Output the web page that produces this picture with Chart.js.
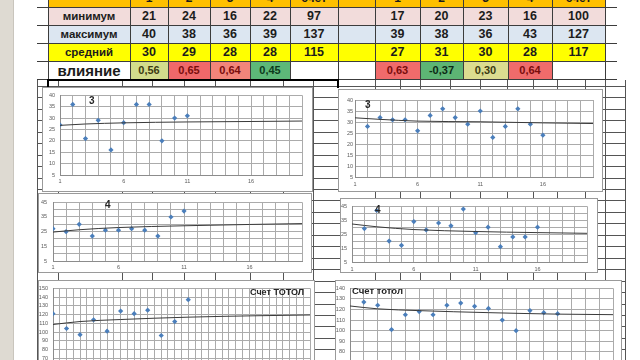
<!DOCTYPE html>
<html><head><meta charset="utf-8">
<script src="https://cdn.jsdelivr.net/npm/chart.js@4.4.0/dist/chart.umd.min.js"></script>
<style>
html,body{margin:0;padding:0;width:640px;height:360px;overflow:hidden;background:#fff;font-family:"Liberation Sans",Arial,sans-serif;}
#strip{position:absolute;left:0;top:0;width:13px;height:360px;background:#dedad2;border-right:1px solid #c9c5bd;}
.cell{position:absolute;box-sizing:border-box;display:flex;align-items:center;justify-content:center;font-weight:bold;color:#1c1c1c;}
.hl{position:absolute;height:1px;background:#3c3c3c;}
.vl{position:absolute;width:1px;background:#3c3c3c;}
.box{position:absolute;background:#fff;border:1px solid #9a9a9a;box-sizing:border-box;}
.box canvas{position:absolute;left:-1px;top:-1px;}
.ttl{position:absolute;font-weight:bold;color:#262626;white-space:nowrap;line-height:1;}
</style></head><body>
<div id="strip"></div>
<div id="sheet"></div>
<div id="table"></div>
<div id="charts"></div>
<script>
// таблица
const colHeads = ['1', '2', '3', '4', 'счет'];
const rowNames = ['минимум', 'максимум', 'средний', 'влияние'];
const minLeft = [21, 24, 16, 22, 97];
const maxLeft = [40, 38, 36, 39, 137];
const avgLeft = [30, 29, 28, 28, 115];
const minRight = [17, 20, 23, 16, 100];
const maxRight = [39, 38, 36, 43, 127];
const avgRight = [27, 31, 30, 28, 117];
const effLeft = ['0,56', '0,65', '0,64', '0,45'];
const effRight = ['0,63', '-0,37', '0,30', '0,64'];

// графики
const xTickLabels = [1, 6, 11, 16];
const days11 = [1, 2, 3, 4, 5, 6, 7, 8, 9, 10, 11];
const days15 = [2, 3, 4, 5, 6, 7, 8, 9, 10, 11, 12, 13, 14, 15, 16];
const leftCol3 = [27, 36, 21, 29, 16, 28, 36, 36, 20, 30, 31];
const rightCol3 = [28, 32, 31, 31, 26, 33, 36, 32, 29, 35, 23, 28, 36, 29, 24];
const leftCol4 = [27, 25, 30, 22, 26, 26, 27, 26, 22, 35, 39];
const rightCol4 = [29, 42, 20, 17, 34, 28, 33, 31, 43, 26, 30, 16, 23, 23, 30];
const leftTotal = [121, 104, 97, 114, 101, 124, 121, 125, 96, 112, 137];
const rightTotal = [127, 124, 101, 115, 118, 115, 124, 126, 123, 121, 110, 100, 119, 117, 116];
// линии тренда
const trendX = [1, 3, 6, 11, 16, 20];
const trendLeft3 = [26.8, 27.4, 27.9, 28.3, 28.5, 28.7];
const trendRight3 = [31.9, 31.2, 30.4, 30.1, 29.6, 29.3];
const trendLeft4 = [24.7, 26.3, 27.8, 29.0, 29.9, 30.5];
const trendRight4 = [32.3, 30.3, 28.3, 26.9, 26.1, 25.6];
const trendLeftTotal = [108.6, 112, 114.3, 117, 118.6, 119.5];
const trendRightTotal = [123.3, 120.6, 118.9, 117, 115.6, 115.1];
const yLabels40 = [5, 10, 15, 20, 25, 30, 35, 40];
const yLabels45 = [5, 15, 25, 35, 45];
const yLabels150 = [60, 70, 80, 90, 100, 110, 120, 130, 140, 150];
const yLabels140 = [60, 70, 80, 90, 100, 110, 120, 130, 140];

// ---- фон листа ----
const sheet = document.getElementById('sheet');
const addLine = (parent, cls, x, y, w, h, color) => {
  const d = document.createElement('div');
  d.className = cls;
  d.style.left = x + 'px'; d.style.top = y + 'px';
  if (w) d.style.width = w + 'px';
  if (h) d.style.height = h + 'px';
  if (color) d.style.background = color;
  parent.appendChild(d);
  return d;
};
for (let y = 86; y < 360; y += 11.45) addLine(sheet, 'hl', 37, Math.round(y), 588, 0, '#555');
[37, 58, 122, 152, 184, 215, 250, 283, 313, 375, 400, 420, 450, 480, 507, 533, 557, 585, 605, 625]
  .forEach(x => addLine(sheet, 'vl', x, 80, 0, 280, '#555'));

// ---- таблица ----
const table = document.getElementById('table');
const colEdges = [48, 130, 168, 210, 250, 290, 338, 375, 420, 463, 508, 552, 605];
const rowEdges = [-11, 7, 25, 43, 61, 79];
const rowBg = ['#FFC000', '#F2DCDB', '#DCE6F1', '#FFFF00', '#FFFFFF'];
const effBgLeft = ['#D2DC8C', '#F0686A', '#F2857A', '#5DB878'];
const effBgRight = ['#F06B6B', '#5DB574', '#DCDC90', '#F06B6B'];
const effFgLeft = ['#3b3b12', '#7a0d0d', '#7a0d0d', '#0d3a1c'];
const effFgRight = ['#7a0d0d', '#0d2a14', '#3b3b12', '#7a0d0d'];

function cell(c, r, text, bg, size, color) {
  const d = document.createElement('div');
  d.className = 'cell';
  d.style.left = colEdges[c] + 'px';
  d.style.top = rowEdges[r] + 'px';
  d.style.width = (colEdges[c + 1] - colEdges[c]) + 'px';
  d.style.height = (rowEdges[r + 1] - rowEdges[r]) + 'px';
  d.style.background = bg;
  d.style.fontSize = size + 'px';
  if (color) d.style.color = color;
  d.textContent = text;
  table.appendChild(d);
}
// строка заголовка и фон строк
for (let r = 0; r < 5; r++) {
  for (let c = 0; c < 12; c++) cell(c, r, '', rowBg[r], 12);
}
colHeads.forEach((h, i) => { cell(1 + i, 0, h, rowBg[0], 12); cell(7 + i, 0, h, rowBg[0], 12); });
rowNames.forEach((n, i) => cell(0, i + 1, n, rowBg[i + 1], i === 3 ? 15 : 11.5));
[minLeft, maxLeft, avgLeft].forEach((arr, r) => arr.forEach((v, i) => cell(1 + i, r + 1, v, rowBg[r + 1], 12.5)));
[minRight, maxRight, avgRight].forEach((arr, r) => arr.forEach((v, i) => cell(7 + i, r + 1, v, rowBg[r + 1], 12.5)));
effLeft.forEach((v, i) => cell(1 + i, 4, v, effBgLeft[i], 11, effFgLeft[i]));
effRight.forEach((v, i) => cell(7 + i, 4, v, effBgRight[i], 11, effFgRight[i]));
// сетка таблицы
[7, 25, 43, 61, 79].forEach(y => addLine(table, 'hl', 37, y, 580, 0));
colEdges.forEach(x => addLine(table, 'vl', x, 0, 0, 79));
addLine(table, 'hl', 47, 79, 291, 2, '#000');
addLine(table, 'vl', 47, 79, 2, 8, '#000');
addLine(table, 'vl', 337, 79, 2, 9, '#000');

// ---- графики ----
const charts = document.getElementById('charts');
function drawPanel(cfg) {
  const box = document.createElement('div');
  box.className = 'box';
  box.style.left = cfg.box[0] + 'px';
  box.style.top = cfg.box[1] + 'px';
  box.style.width = cfg.box[2] + 'px';
  box.style.height = cfg.box[3] + 'px';
  const cv = document.createElement('canvas');
  cv.width = cfg.box[2];
  cv.height = cfg.box[3];
  box.appendChild(cv);
  charts.appendChild(box);

  new Chart(cv, {
    type: 'scatter',
    data: {
      datasets: [
        {
          data: cfg.xs.map((x, i) => ({ x: x, y: cfg.ys[i] })),
          pointStyle: 'rectRot', pointRadius: 2.6,
          backgroundColor: '#4A7EBB', borderColor: '#4A7EBB', borderWidth: 0,
          order: 1
        },
        {
          data: trendX.map((x, i) => ({ x: x, y: cfg.trend[i] })),
          showLine: true, borderColor: '#3a3a3a', borderWidth: 1, pointRadius: 0,
          cubicInterpolationMode: 'monotone', order: 0
        }
      ]
    },
    options: {
      responsive: false, animation: false, devicePixelRatio: 1,
      events: [],
      plugins: { legend: { display: false }, tooltip: { enabled: false } },
      layout: { padding: { left: 0, top: cfg.pad[0], right: cfg.pad[1], bottom: 0 } },
      scales: {
        x: {
          type: 'linear', min: 1, max: 20,
          ticks: {
            stepSize: cfg.xStep, autoSkip: false, maxRotation: 0, padding: cfg.xPad,
            font: { size: 5.5, family: 'Liberation Sans' }, color: '#5a5a5a',
            callback: v => xTickLabels.includes(v) ? String(v) : ''
          },
          grid: { color: '#ababab', drawTicks: false },
          border: { color: '#8c8c8c' },
          afterFit: s => { s.height = cfg.axis[1]; }
        },
        y: {
          min: cfg.yMin, max: cfg.yMax,
          ticks: {
            stepSize: cfg.yStep, autoSkip: false, padding: cfg.yPad,
            font: { size: 5.5, family: 'Liberation Sans' }, color: '#5a5a5a',
            callback: v => cfg.yLabels.includes(v) ? String(v) : ''
          },
          grid: { color: '#ababab', drawTicks: false },
          border: { color: '#8c8c8c' },
          afterFit: s => { s.width = cfg.axis[0]; }
        }
      }
    }
  });

  const t = document.createElement('div');
  t.className = 'ttl';
  t.style.left = cfg.title[1] + 'px';
  t.style.top = cfg.title[2] + 'px';
  t.style.fontSize = cfg.title[3] + 'px';
  t.textContent = cfg.title[0];
  charts.appendChild(t);
}

drawPanel({ box: [42, 87, 271, 105], pad: [7, 11], axis: [18, 17], xPad: 3, yPad: 5,
  xs: days11, ys: leftCol3, trend: trendLeft3, xStep: 1,
  yMin: 5, yMax: 40, yStep: 5, yLabels: yLabels40, title: ['3', 89, 96, 10] });
drawPanel({ box: [338, 89, 265, 103], pad: [11, 10], axis: [17, 15], xPad: 4, yPad: 2,
  xs: days15, ys: rightCol3, trend: trendRight3, xStep: 1,
  yMin: 5, yMax: 40, yStep: 5, yLabels: yLabels40, title: ['3', 365, 100, 10] });
drawPanel({ box: [38, 193, 274, 80], pad: [4, 10], axis: [15, 12], xPad: 3, yPad: 6,
  xs: days11, ys: leftCol4, trend: trendLeft4, xStep: 1,
  yMin: 5, yMax: 45, yStep: 5, yLabels: yLabels45, title: ['4', 105, 200, 10] });
drawPanel({ box: [340, 198, 258, 75], pad: [4, 11], axis: [12, 11], xPad: 4, yPad: 5,
  xs: days15, ys: rightCol4, trend: trendRight4, xStep: 1,
  yMin: 5, yMax: 45, yStep: 5, yLabels: yLabels45, title: ['4', 375, 205, 10] });
drawPanel({ box: [38, 280, 277, 105], pad: [7, 5], axis: [15, 18], xPad: 3, yPad: 5,
  xs: days11, ys: leftTotal, trend: trendLeftTotal, xStep: 0.5,
  yMin: 60, yMax: 150, yStep: 10, yLabels: yLabels150, title: ['Счет ТОТОЛ', 250, 288, 9] });
drawPanel({ box: [335, 280, 287, 105], pad: [8, 9], axis: [15, 12], xPad: 3, yPad: 5,
  xs: days15, ys: rightTotal, trend: trendRightTotal, xStep: 1,
  yMin: 60, yMax: 140, yStep: 10, yLabels: yLabels140, title: ['Счет тотол', 352, 286, 9.5] });
</script>
</body></html>
